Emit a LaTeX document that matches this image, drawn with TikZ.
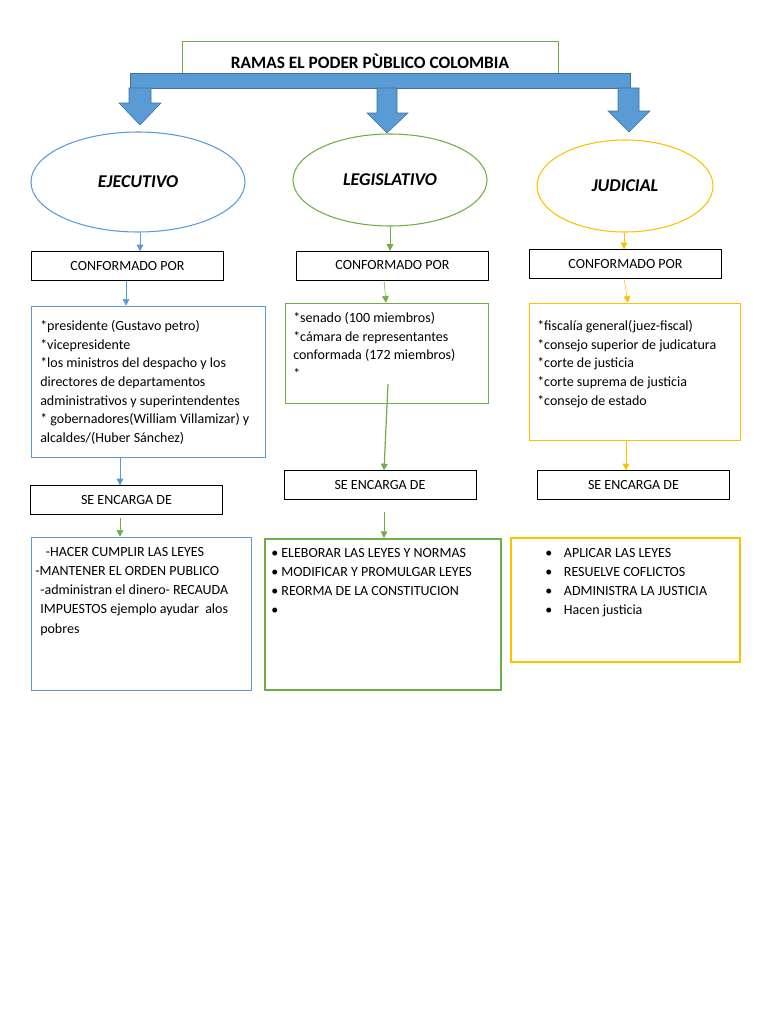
\documentclass[tikz,border=0pt]{standalone}
\usepackage{fontspec}
\setmainfont{Carlito}
\usetikzlibrary{shapes.geometric,arrows.meta}
\definecolor{ejeblue}{HTML}{5B9BD5}
\definecolor{leggreen}{HTML}{70AD47}
\definecolor{judgold}{HTML}{FFC000}
\definecolor{barline}{HTML}{41719C}
\newcommand{\itm}[1]{\makebox[14pt][l]{\textbullet}#1}

\begin{document}
\begin{tikzpicture}[x=0.75pt,y=-0.75pt,
    txt/.style={inner sep=0pt,anchor=north west,align=left,font=\fontsize{10.5}{14}\selectfont},
    txtb/.style={txt,font=\fontsize{10.5}{14.4}\selectfont},
    tag/.style={draw=black,rectangle,minimum width=144pt,minimum height=21.5pt,font=\fontsize{10.5}{12}\selectfont},
    rama/.style={ellipse,draw,thick,font=\fontsize{13.5}{15}\selectfont\bfseries\itshape},
    flecha/.style={-{Triangle[width=5pt,length=5pt]},thin}]

    \useasboundingbox (0,0) rectangle (768,1024);

    % Titulo y barra %
    \node[draw=leggreen,minimum width=282pt,minimum height=29pt,font=\fontsize{13}{15}\selectfont\bfseries] (titulo) at (370,61) {RAMAS EL PODER PÙBLICO COLOMBIA};
    \node[fill=ejeblue,draw=barline,minimum width=375pt,minimum height=11pt,inner sep=0pt] (barra) at (380.5,80.5) {};
    \begin{scope}[fill=ejeblue,draw=barline]
        \filldraw (129,88) -- (151,88) -- (151,103) -- (161,103) -- (140,125) -- (119,103) -- (129,103) -- cycle;
        \filldraw (377,88) -- (397,88) -- (397,113) -- (408,113) -- (387,133) -- (367,113) -- (377,113) -- cycle;
        \filldraw (618,88) -- (639,88) -- (639,111) -- (650,111) -- (629,132) -- (608,111) -- (618,111) -- cycle;
    \end{scope}

    % Ramas %
    \node[rama,draw=ejeblue,minimum width=160.5pt,minimum height=75pt] (eje) at (138,182) {EJECUTIVO};
    \node[rama,draw=leggreen,minimum width=145.5pt,minimum height=69pt] (leg) at (390,180) {LEGISLATIVO};
    \node[rama,draw=judgold,minimum width=132pt,minimum height=69pt] (jud) at (625,186) {JUDICIAL};

    % Conformado por %
    \node[tag] (ejeconf) at (127.5,266) {CONFORMADO POR};
    \node[tag] (legconf) at (392.5,265.5) {CONFORMADO POR};
    \node[tag] (judconf) at (625.5,264) {CONFORMADO POR};

    \node[draw=ejeblue,minimum width=175.5pt,minimum height=113.25pt] (ejemiem) at (148,381.5) {};
    \node[draw=leggreen,minimum width=152.25pt,minimum height=75pt] (legmiem) at (386.5,353) {};
    \node[draw=judgold,minimum width=158.25pt,minimum height=102.75pt] (judmiem) at (634.5,371.5) {};

    \node[txt] (ejemiemtxt) at (40,320) {*presidente (Gustavo petro)\\*vicepresidente\\*los ministros del despacho y los\\directores de departamentos\\administrativos y superintendentes\\* gobernadores(William Villamizar) y\\alcaldes/(Huber Sánchez)};
    \node[txt] (legmiemtxt) at (293,312) {*senado (100 miembros)\\*cámara de representantes\\conformada (172 miembros)\\*};
    \node[txt] (judmiemtxt) at (537,320) {*fiscalía general(juez-fiscal)\\*consejo superior de judicatura\\*corte de justicia\\*corte suprema de justicia\\*consejo de estado};

    % Se encarga de %
    \node[tag] (ejeenc) at (126.5,500) {SE ENCARGA DE};
    \node[tag] (legenc) at (380,485) {SE ENCARGA DE};
    \node[tag] (judenc) at (633.5,485) {SE ENCARGA DE};

    \node[draw=ejeblue,minimum width=165pt,minimum height=114.75pt] (ejefun) at (141,613.5) {};
    \node[draw=leggreen,line width=1.5pt,minimum width=177pt,minimum height=113.25pt] (legfun) at (383,614.5) {};
    \node[draw=judgold,line width=1.5pt,minimum width=171.75pt,minimum height=93pt] (judfun) at (625.5,600) {};

    \node[txtb] (ejefuntxt) at (35,547) {\hspace*{8pt}-HACER CUMPLIR LAS LEYES\\-MANTENER EL ORDEN PUBLICO\\\hspace*{3.75pt}-administran el dinero- RECAUDA\\\hspace*{3.75pt}IMPUESTOS ejemplo ayudar~ alos\\\hspace*{3.75pt}pobres};
    \node[txtb] (legfuntxt) at (271,548) {\textbullet\ ELEBORAR LAS LEYES Y NORMAS\\\textbullet\ MODIFICAR Y PROMULGAR LEYES\\\textbullet\ REORMA DE LA CONSTITUCION\\\textbullet};
    \node[txtb] (judfuntxt) at (545,548) {\itm{APLICAR LAS LEYES}\\\itm{RESUELVE COFLICTOS}\\\itm{ADMINISTRA LA JUSTICIA}\\\itm{Hacen justicia}};

    \coordinate (legpunta) at (388,384);

    % Conectores %
    \begin{scope}[every path/.style={draw=ejeblue,flecha}]
        \path (eje.south -| 140,0) -- (ejeconf.north -| 140,0);
        \path (ejeconf.south -| 126,0) -- (ejemiem.north -| 126,0);
        \path (ejemiem.south -| 120,0) -- (ejeenc.north -| 120,0);
    \end{scope}
    \begin{scope}[every path/.style={draw=leggreen,flecha}]
        \path (leg.south -| 390,0) -- (legconf.north -| 390,0);
        \path (legconf.south -| 384,0) -- (legmiem.north -| 386,0);
        \path[line width=0.9pt] (legpunta) -- (legenc.north -| 384,0);
        \path (legenc.south -| 384,0) ++(0,12) -- (legfun.north -| 384,0);
        \path (ejeenc.south -| 120,0) ++(0,3) -- (ejefun.north -| 120,0);
    \end{scope}
    \begin{scope}[every path/.style={draw=judgold,flecha}]
        \path (jud.south -| 624,0) -- (judconf.north -| 624,0);
        \path (judconf.south -| 624,0) -- (judmiem.north -| 628,0);
        \path (judmiem.south -| 626,0) -- (judenc.north -| 626,0);
    \end{scope}

\end{tikzpicture}
\end{document}
